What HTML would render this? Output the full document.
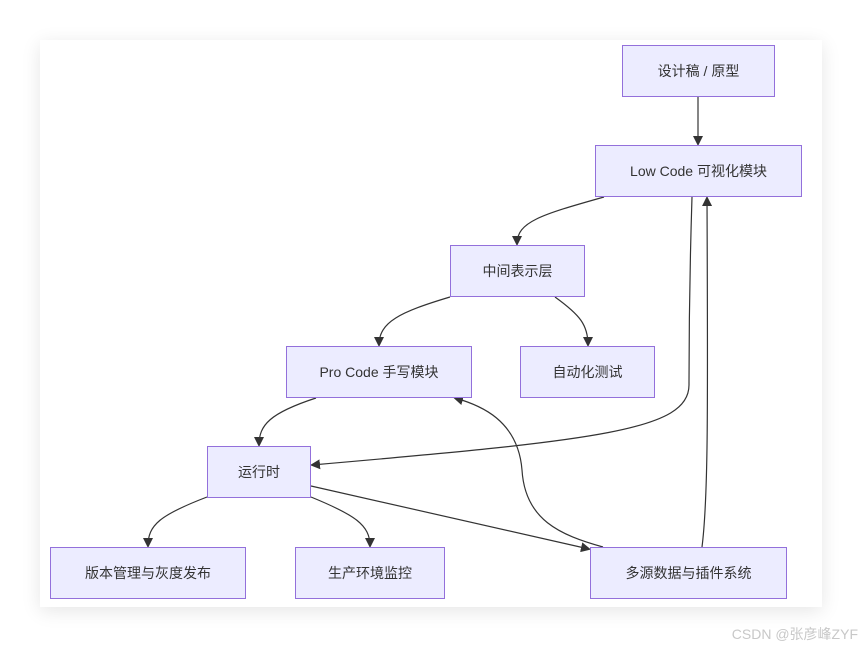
<!DOCTYPE html>
<html><head><meta charset="utf-8"><style>
html,body{margin:0;padding:0;background:#fff;}
body{width:862px;height:648px;position:relative;overflow:hidden;font-family:"Liberation Sans","Noto Sans CJK SC",sans-serif;}
.card{position:absolute;left:40px;top:40px;width:782px;height:567px;background:#fff;box-shadow:0 4px 18px rgba(0,0,0,0.10);}
.n{position:absolute;box-sizing:border-box;background:#ECECFF;border:1px solid #9370DB;display:flex;align-items:center;justify-content:center;font-size:14px;color:#333;}
.wm{position:absolute;right:4px;top:624px;font-size:14px;color:#c8c8c8;}
svg{position:absolute;left:0;top:0;}
</style></head><body>
<div class="card"></div>
<svg width="862" height="648">
<defs><marker id="a" markerWidth="10" markerHeight="10" refX="8" refY="5" orient="auto" markerUnits="userSpaceOnUse"><path d="M0,0 L10,5 L0,10 z" fill="#333"/></marker></defs>
<g fill="none" stroke="#333" stroke-width="1.2" marker-end="url(#a)">
<path d="M698,97 L698,144"/>
<path d="M604,197 C540,215 517,222 517,244"/>
<path d="M450,297 C400,312 379,322 379,345"/>
<path d="M555,297 C580,315 588,325 588,345"/>
<path d="M316,398 C270,413 259,425 259,445"/>
<path d="M692,197 C690,260 689,330 689,385 C689,430 600,440 312,465"/>
<path d="M207,497 C160,515 148,525 148,546"/>
<path d="M311,497 C355,515 370,525 370,546"/>
<path d="M311,486 L589,549"/>
<path d="M603,547 C560,535 525,520 522,470 C518,420 480,405 455,398"/>
<path d="M702,547 C708,500 708,420 707,198"/>
</g>
</svg>
<div class="n" style="left:622px;top:45px;width:153px;height:52px;">设计稿 / 原型</div>
<div class="n" style="left:595px;top:145px;width:207px;height:52px;">Low Code 可视化模块</div>
<div class="n" style="left:450px;top:245px;width:135px;height:52px;">中间表示层</div>
<div class="n" style="left:286px;top:346px;width:186px;height:52px;">Pro Code 手写模块</div>
<div class="n" style="left:520px;top:346px;width:135px;height:52px;">自动化测试</div>
<div class="n" style="left:207px;top:446px;width:104px;height:52px;">运行时</div>
<div class="n" style="left:50px;top:547px;width:196px;height:52px;">版本管理与灰度发布</div>
<div class="n" style="left:295px;top:547px;width:150px;height:52px;">生产环境监控</div>
<div class="n" style="left:590px;top:547px;width:197px;height:52px;">多源数据与插件系统</div>
<div class="wm">CSDN @张彦峰ZYF</div>
</body></html>
